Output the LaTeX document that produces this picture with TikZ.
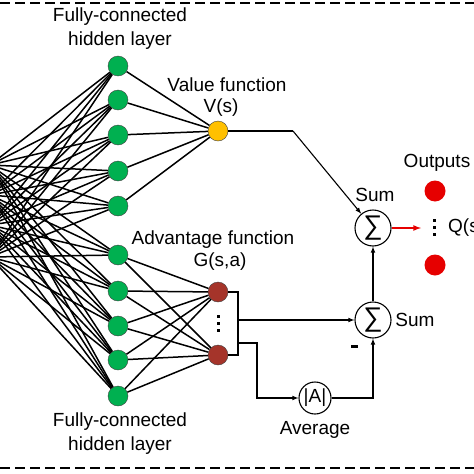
\documentclass[tikz,border=0pt]{standalone}
\usepackage{fontspec}
\setmainfont{Liberation Sans}
\definecolor{hidgreen}{RGB}{0,176,80}
\definecolor{valyellow}{RGB}{255,192,0}
\definecolor{advbrown}{RGB}{165,52,42}
\definecolor{outred}{RGB}{230,0,0}
\begin{document}
\begin{tikzpicture}[x=1pt, y=-1pt, >=latex,
    every node/.style={font=\fontsize{19}{24}\selectfont},
    neuron/.style={circle, draw=black!75, thin, minimum size=20pt, inner sep=0pt},
    inp/.style={circle, minimum size=20pt, inner sep=0pt},
    hid/.style={neuron, fill=hidgreen},
    val/.style={neuron, fill=valyellow},
    adv/.style={neuron, fill=advbrown},
    outn/.style={circle, fill=outred, minimum size=21pt, inner sep=0pt},
    sumop/.style={circle, draw, line width=1.1pt, minimum size=36pt, inner sep=0pt,
        font=\fontsize{27}{27}\selectfont},
    link/.style={line width=1.5pt},
    flow/.style={line width=1.1pt, ->}]
    \useasboundingbox (0,0) rectangle (474,474);
    \clip (0,0) rectangle (474,474);

    \draw[line width=1.3pt, dash pattern=on 10pt off 5pt] (0,3) -- (474,3);
    \draw[line width=1.3pt, dash pattern=on 10pt off 5pt] (0,468) -- (474,468);

    % layers
    \foreach \i/\y in {1/165,2/195,3/225,4/257} \node[inp] (in\i) at (-10,\y) {};
    \foreach \i/\y in {1/66,2/100,3/135,4/171,5/206} \node[hid] (ha\i) at (118,\y) {};
    \foreach \i/\y in {1/255,2/291,3/326,4/360,5/396} \node[hid] (hb\i) at (118,\y) {};
    \node[val] (vs) at (218,131) {};
    \node[adv] (ga1) at (218,292) {};
    \node[adv] (ga2) at (218,355) {};

    \foreach \i in {1,...,4} \foreach \j in {1,...,5} {
        \draw[link] (in\i) -- (ha\j);
        \draw[link] (in\i) -- (hb\j);
    }
    \foreach \j in {1,...,5} {
        \draw[link] (ha\j) -- (vs);
        \draw[link] (hb\j) -- (ga1);
        \draw[link] (hb\j) -- (ga2);
    }

    \node (toplabel) at (120,29) [align=center] {Fully-connected\\hidden layer};
    \node (botlabel) at (120,434) [align=center] {Fully-connected\\hidden layer};
    \node (vlabel) at (227,85) {Value function};
    \node (vslabel) at (221,108) {V(s)};
    \node (alabel) at (213,240) {Advantage function};
    \node (galabel) at (220,262) {G(s,a)};

    \foreach \y in {316,323,330} \fill (216.5,\y-1.5) rectangle (219.5,\y+1.5);

    % aggregation
    \node[sumop] (sum1) at (373,228) {∑};
    \node[sumop] (sum2) at (373,320) {∑};
    \node[sumop, minimum size=32pt, font=\fontsize{19}{24}\selectfont] (absA) at (315,398) {|A|};
    \node (sum1label) at (375,195) {Sum};
    \node (sum2label) at (415,320) {Sum};
    \node (avglabel) at (315,430) {Average};
    \fill (350.5,344.5) rectangle (357.5,348);

    \coordinate (vbend) at (293,131);
    \coordinate (brtop) at (238,292);
    \coordinate (brbot) at (238,355);
    \coordinate (brmid) at (238,320);
    \coordinate (brlow) at (238,343);
    \draw[line width=1.1pt] (vs) -- (vbend);
    \draw[flow] (vbend) -- (sum1);
    \draw[line width=1.1pt] (ga1) -- (brtop) -- (brbot) -- (ga2);
    \draw[flow] (brmid) -- (sum2);
    \draw[flow] (brlow) -- (257,343) |- (absA);
    \draw[flow] (absA) -| (sum2);
    \draw[flow] (sum2) -- (sum1);

    % outputs
    \node (outlabel) at (437,163) {Outputs};
    \node[outn] (q1) at (435,191) {};
    \node[outn] (q2) at (435,265) {};
    \coordinate (qtip) at (421,228);
    \draw[outred, line width=1.6pt, ->] (sum1) -- (qtip);
    \foreach \y in {220,227,234} \fill (432.5,\y-1.5) rectangle (435.5,\y+1.5);
    \node[anchor=west, inner sep=0pt] (qlabel) at (448,228) {Q(s,a)};
\end{tikzpicture}
\end{document}
